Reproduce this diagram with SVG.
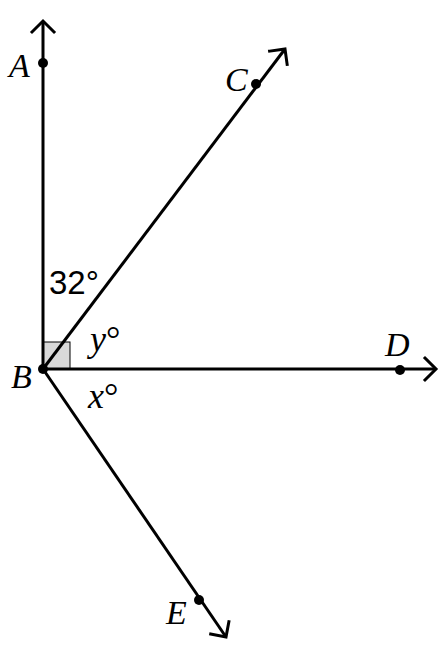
<svg xmlns="http://www.w3.org/2000/svg" width="448" height="649" viewBox="0 0 448 649">
<style>
.ray{stroke:#000;stroke-width:3;fill:none}
.pt{fill:#000}
.lbl{font-family:"Liberation Serif",serif;font-style:italic;font-size:34px;fill:#000}
.var{font-family:"Liberation Serif",serif;font-style:italic;font-size:36px;fill:#000}
.deg{font-style:normal}
.ang{font-family:"Liberation Sans",sans-serif;font-size:33px;fill:#000}
</style>
<defs>
<marker id="arr" markerUnits="userSpaceOnUse" markerWidth="30" markerHeight="30" viewBox="-15 -15 30 30" refX="0" refY="0" orient="auto">
<path d="M-11,-11 L0,0 L-11,11" stroke="#000" stroke-width="3" fill="none" stroke-linecap="square"/>
</marker>
</defs>
<rect x="0" y="0" width="448" height="649" fill="#fff"/>
<g id="rightangle">
<rect x="43" y="342" width="27" height="27" fill="#d9d9d9" stroke="#000" stroke-width="1"/>
</g>
<g id="connectors">
<line class="ray" x1="43" y1="369" x2="43" y2="21" marker-end="url(#arr)"/>
<line class="ray" x1="43" y1="369" x2="285" y2="49" marker-end="url(#arr)"/>
<line class="ray" x1="43" y1="369" x2="436" y2="369" marker-end="url(#arr)"/>
<line class="ray" x1="43" y1="369" x2="226" y2="637" marker-end="url(#arr)"/>
</g>
<g id="A"><circle class="pt" cx="43" cy="63" r="5"/><text class="lbl" x="9" y="77">A</text></g>
<g id="B"><circle class="pt" cx="43" cy="369" r="5"/><text class="lbl" x="11" y="388">B</text></g>
<g id="C"><circle class="pt" cx="256" cy="84" r="5"/><text class="lbl" x="225" y="91">C</text></g>
<g id="D"><circle class="pt" cx="400" cy="370" r="5"/><text class="lbl" x="385" y="356">D</text></g>
<g id="E"><circle class="pt" cx="199" cy="600" r="5"/><text class="lbl" x="166" y="624">E</text></g>
<g id="angles">
<text class="ang" x="49" y="294">32°</text>
<text class="var" x="90" y="351">y<tspan class="deg">°</tspan></text>
<text class="var" x="88" y="408">x<tspan class="deg">°</tspan></text>
</g>
</svg>
